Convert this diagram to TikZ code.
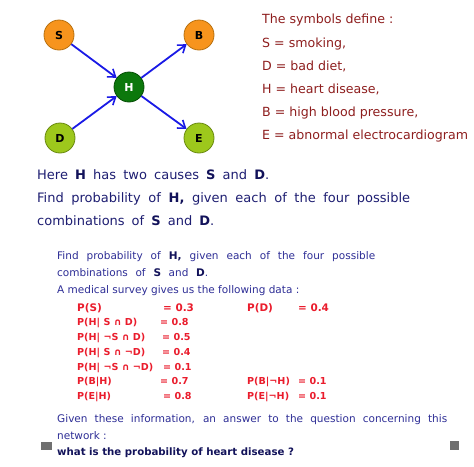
\documentclass[tikz,border=0pt]{standalone}
\usepackage{fontspec}
\setmainfont{DejaVu Sans}
\usetikzlibrary{arrows.meta}
\definecolor{orangeN}{HTML}{F7941D}
\definecolor{orangeB}{HTML}{B8700F}
\definecolor{greenN}{HTML}{9DC81C}
\definecolor{greenB}{HTML}{6A8A10}
\definecolor{darkG}{HTML}{0C780C}
\definecolor{darkGB}{HTML}{064E06}
\definecolor{arrowB}{HTML}{1A1AE6}
\definecolor{defred}{HTML}{8E1E1E}
\definecolor{navy}{HTML}{1E1E72}
\definecolor{navyB}{HTML}{12125A}
\definecolor{navyL}{HTML}{2E2E96}
\definecolor{datared}{HTML}{EA1C2C}
\definecolor{sqgrey}{HTML}{707070}
\tikzset{
  var/.style={circle,minimum size=30pt,inner sep=0pt,line width=0.8pt,font=\bfseries\fontsize{11}{13}\selectfont},
  varO/.style={var,fill=orangeN,draw=orangeB},
  varG/.style={var,fill=greenN,draw=greenB},
  varH/.style={var,fill=darkG,draw=darkGB,text=white},
  link/.style={draw=arrowB,line width=1.8pt,-{Straight Barb[length=7pt,width=10pt,line width=1.6pt]}},
  deftext/.style={anchor=base west,inner sep=0pt,text=defred,font=\fontsize{12.6}{14}\selectfont},
  midtext/.style={anchor=base west,inner sep=0pt,text=navy,font=\fontsize{13}{15}\selectfont},
  lowtext/.style={anchor=base west,inner sep=0pt,text=navyL,font=\fontsize{10.5}{12}\selectfont},
  datatext/.style={anchor=base west,inner sep=0pt,text=datared,font=\bfseries\fontsize{9.6}{11}\selectfont},
  databig/.style={datatext,font=\bfseries\fontsize{10.4}{12}\selectfont},
  sq/.style={fill=sqgrey,draw=none}
}
\newcommand{\bw}[1]{\textbf{\textcolor{navyB}{#1}}}
\begin{document}
\begin{tikzpicture}[x=1pt,y=-1pt]
\useasboundingbox[fill=white] (0,0) rectangle (474,466);
% network
\node[varO] (S) at (59,35) {S};
\node[varO] (B) at (199,35) {B};
\node[varH] (H) at (129,87) {H};
\node[varG] (D) at (60,138) {D};
\node[varG] (E) at (199,138) {E};
\draw[link] (S) -- (H);
\draw[link] (D) -- (H);
\draw[link] (H) -- (B);
\draw[link] (H) -- (E);
% definitions
\node[deftext] (d0) at (262,23.6) {The symbols define :};
\node[deftext] (d1) at (262,47.6) {S = smoking,};
\node[deftext] (d2) at (262,70.6) {D = bad diet,};
\node[deftext] (d3) at (262,93.6) {H = heart disease,};
\node[deftext] (d4) at (262,116.6) {B = high blood pressure,};
\node[deftext] (d5) at (262,139.6) {E = abnormal electrocardiogram};
% middle text
\node[midtext] (m1) at (37,179.7) {\makebox[232pt][s]{Here \bw{H} has two causes \bw{S} and \bw{D}.}};
\node[midtext] (m2) at (37,202.7) {\makebox[373pt][s]{Find probability of \bw{H,} given each of the four possible}};
\node[midtext] (m3) at (37,225.7) {\makebox[177pt][s]{combinations of \bw{S} and \bw{D}.}};
% lower block
\node[lowtext] (l1) at (57,259.8) {\makebox[318pt][s]{Find probability of \bw{H,} given each of the four possible}};
\node[lowtext] (l2) at (57,276.8) {\makebox[151pt][s]{combinations of \bw{S} and \bw{D}.}};
\node[lowtext] (l3) at (57,293.8) {A medical survey gives us the following data :};
% data
\node[databig] (p1a) at (77,311.8) {P(S)};
\node[databig] (p1b) at (163,311.8) {= 0.3};
\node[databig] (p1c) at (247,311.8) {P(D)};
\node[databig] (p1d) at (298,311.8) {= 0.4};
\node[datatext] (p2a) at (77,325.5) {P(H| S ∩ D)};
\node[datatext] (p2b) at (160,325.5) {= 0.8};
\node[datatext] (p3a) at (77,340.5) {P(H| ¬S ∩ D)};
\node[datatext] (p3b) at (162,340.5) {= 0.5};
\node[datatext] (p4a) at (77,355.5) {P(H| S ∩ ¬D)};
\node[datatext] (p4b) at (162,355.5) {= 0.4};
\node[datatext] (p5a) at (77,370.5) {P(H| ¬S ∩ ¬D)};
\node[datatext] (p5b) at (163,370.5) {= 0.1};
\node[datatext] (p6a) at (77,384.5) {P(B|H)};
\node[datatext] (p6b) at (160,384.5) {= 0.7};
\node[datatext] (p6c) at (247,384.5) {P(B|¬H)};
\node[datatext] (p6d) at (298,384.5) {= 0.1};
\node[datatext] (p7a) at (77,399.5) {P(E|H)};
\node[datatext] (p7b) at (163,399.5) {= 0.8};
\node[datatext] (p7c) at (247,399.5) {P(E|¬H)};
\node[datatext] (p7d) at (298,399.5) {= 0.1};
% closing text
\node[lowtext] (g1) at (57,422.8) {\makebox[390pt][s]{Given these information, an answer to the question concerning this}};
\node[lowtext] (g2) at (57,439.8) {network :};
\node[lowtext,text=navyB,font=\bfseries\fontsize{10.2}{12}\selectfont] (g3) at (57,455.8) {what is the probability of heart disease ?};
% grey squares
\fill[sq] (41,442) rectangle (52,450);
\fill[sq] (450,441) rectangle (459,450);
\end{tikzpicture}
\end{document}
